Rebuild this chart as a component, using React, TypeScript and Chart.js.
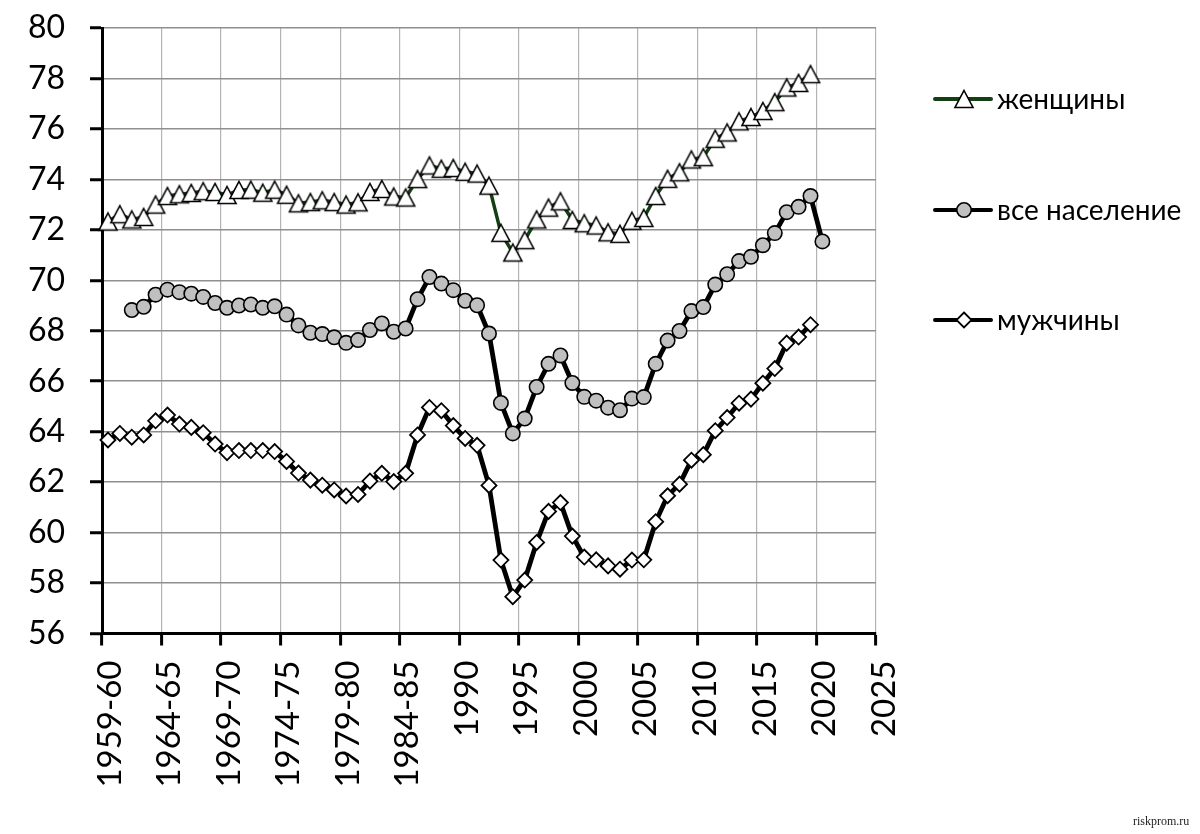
import React, { useEffect, useRef } from 'react';
import { Chart, registerables } from 'chart.js';

Chart.register(...registerables);

// Category start years (each point sits in the middle of its year slot)
const years = [
  1960, 1961, 1962, 1963, 1964, 1965, 1966, 1967, 1968, 1969,
  1970, 1971, 1972, 1973, 1974, 1975, 1976, 1977, 1978, 1979,
  1980, 1981, 1982, 1983, 1984, 1985, 1986, 1987, 1988, 1989,
  1990, 1991, 1992, 1993, 1994, 1995, 1996, 1997, 1998, 1999,
  2000, 2001, 2002, 2003, 2004, 2005, 2006, 2007, 2008, 2009,
  2010, 2011, 2012, 2013, 2014, 2015, 2016, 2017, 2018, 2019,
  2020,
];

const women = [
  72.33, 72.62, 72.41, 72.51, 73.0, 73.34, 73.41, 73.46, 73.53, 73.5,
  73.38, 73.58, 73.59, 73.47, 73.59, 73.39, 73.05, 73.1, 73.17, 73.1,
  73.0, 73.09, 73.5, 73.62, 73.32, 73.28, 74.01, 74.55, 74.42, 74.45,
  74.3, 74.23, 73.75, 71.88, 71.1, 71.59, 72.41, 72.88, 73.13, 72.39,
  72.26, 72.17, 71.9, 71.84, 72.36, 72.47, 73.34, 74.02, 74.28, 74.79,
  74.88, 75.61, 75.86, 76.3, 76.47, 76.71, 77.06, 77.64, 77.82, 78.17,
  null,
];

const total = [
  null, null, 68.82, 68.95, 69.43, 69.63, 69.53, 69.47, 69.34, 69.1,
  68.91, 69.0, 69.04, 68.91, 68.97, 68.64, 68.21, 67.92, 67.87, 67.74,
  67.52, 67.63, 68.03, 68.29, 67.96, 68.09, 69.25, 70.13, 69.87, 69.61,
  69.19, 69.01, 67.89, 65.14, 63.93, 64.52, 65.77, 66.69, 67.02, 65.93,
  65.38, 65.23, 64.95, 64.85, 65.31, 65.37, 66.69, 67.61, 67.99, 68.78,
  68.94, 69.83, 70.24, 70.76, 70.93, 71.39, 71.87, 72.7, 72.91, 73.34,
  71.54,
];

const men = [
  63.67, 63.93, 63.78, 63.87, 64.43, 64.66, 64.3, 64.17, 63.96, 63.51,
  63.17, 63.25, 63.25, 63.25, 63.21, 62.82, 62.36, 62.08, 61.88, 61.69,
  61.45, 61.51, 62.04, 62.35, 62.02, 62.35, 63.87, 64.96, 64.83, 64.24,
  63.73, 63.46, 61.87, 58.91, 57.46, 58.12, 59.61, 60.84, 61.19, 59.86,
  59.03, 58.92, 58.68, 58.55, 58.91, 58.92, 60.43, 61.46, 61.92, 62.87,
  63.09, 64.04, 64.56, 65.13, 65.29, 65.92, 66.5, 67.51, 67.75, 68.24,
  null,
];

const xTickValues = [1960, 1965, 1970, 1975, 1980, 1985, 1990, 1995, 2000, 2005, 2010, 2015, 2020, 2025];
const xTickLabels = ['1959-60', '1964-65', '1969-70', '1974-75', '1979-80', '1984-85', '1990', '1995', '2000', '2005', '2010', '2015', '2020', '2025'];

const seriesLabels = ['женщины', 'все население', 'мужчины'];
const watermark = 'riskprom.ru';

const FONT = 'Lato, "Open Sans", sans-serif';

function makeTriangle(): HTMLCanvasElement {
  const c = document.createElement('canvas');
  c.width = 24;
  c.height = 24;
  const g = c.getContext('2d')!;
  g.beginPath();
  g.moveTo(12, 3.5);
  g.lineTo(21, 20.5);
  g.lineTo(3, 20.5);
  g.closePath();
  g.fillStyle = '#ffffff';
  g.fill();
  g.lineWidth = 1.6;
  g.lineJoin = 'miter';
  g.strokeStyle = '#000000';
  g.stroke();
  return c;
}

export default function App() {
  const ref = useRef<HTMLCanvasElement | null>(null);

  useEffect(() => {
    if (!ref.current) return;
    const tri = makeTriangle();
    const toPoints = (vals: (number | null)[]) =>
      years.map((yr, i) => ({ x: yr + 0.5, y: vals[i] }));

    const legendPlugin = {
      id: 'sideLegend',
      afterDraw(chart: any) {
        const ctx = chart.ctx as CanvasRenderingContext2D;
        const rows = [99, 210, 320];
        chart.data.datasets.forEach((ds: any, i: number) => {
          const y = rows[i];
          ctx.save();
          ctx.strokeStyle = ds.borderColor;
          ctx.lineWidth = 4;
          ctx.lineCap = 'round';
          ctx.beginPath();
          ctx.moveTo(935, y);
          ctx.lineTo(991, y);
          ctx.stroke();
          const mx = 964;
          if (ds.pointStyle && typeof ds.pointStyle === 'object') {
            ctx.drawImage(ds.pointStyle, mx - 12, y - 12);
          } else if (ds.pointStyle === 'circle') {
            ctx.beginPath();
            ctx.arc(mx, y, ds.pointRadius, 0, Math.PI * 2);
            ctx.fillStyle = ds.pointBackgroundColor;
            ctx.fill();
            ctx.lineWidth = ds.pointBorderWidth;
            ctx.strokeStyle = '#000';
            ctx.stroke();
          } else {
            const r = ds.pointRadius;
            ctx.beginPath();
            ctx.moveTo(mx, y - r);
            ctx.lineTo(mx + r, y);
            ctx.lineTo(mx, y + r);
            ctx.lineTo(mx - r, y);
            ctx.closePath();
            ctx.fillStyle = ds.pointBackgroundColor;
            ctx.fill();
            ctx.lineWidth = ds.pointBorderWidth;
            ctx.strokeStyle = '#000';
            ctx.stroke();
          }
          ctx.fillStyle = '#000';
          ctx.font = '28px ' + FONT;
          ctx.textBaseline = 'middle';
          ctx.textAlign = 'left';
          ctx.fillText(ds.label, 997, y + 1);
          ctx.restore();
        });
        ctx.save();
        ctx.fillStyle = '#222';
        ctx.font = '12px "Liberation Serif", serif';
        ctx.textBaseline = 'middle';
        ctx.fillText(watermark, 1133, 822);
        ctx.restore();
      },
    };

    const chart = new Chart(ref.current, {
      type: 'line',
      data: {
        datasets: [
          {
            label: seriesLabels[0],
            data: toPoints(women),
            borderColor: '#133f13',
            borderWidth: 3.5,
            pointStyle: tri as any,
            pointRadius: 10,
            pointBackgroundColor: '#ffffff',
            pointBorderColor: '#000000',
            pointBorderWidth: 1.6,
            clip: false as any,
          },
          {
            label: seriesLabels[1],
            data: toPoints(total),
            borderColor: '#000000',
            borderWidth: 4.8,
            pointStyle: 'circle',
            pointRadius: 7.2,
            pointBackgroundColor: '#c0c0c0',
            pointBorderColor: '#000000',
            pointBorderWidth: 1.6,
            clip: false as any,
          },
          {
            label: seriesLabels[2],
            data: toPoints(men),
            borderColor: '#000000',
            borderWidth: 4.8,
            pointStyle: 'rectRot',
            pointRadius: 7.5,
            pointBackgroundColor: '#ffffff',
            pointBorderColor: '#000000',
            pointBorderWidth: 1.8,
            clip: false as any,
          },
        ] as any,
      },
      options: {
        animation: false,
        responsive: false,
        events: [],
        layout: { padding: { top: 28, right: 324, left: 0, bottom: 0 } },
        elements: {
          line: { tension: 0, borderJoinStyle: 'round', borderCapStyle: 'round' },
        },
        plugins: {
          legend: { display: false },
          tooltip: { enabled: false },
        },
        scales: {
          x: {
            type: 'linear',
            min: 1960,
            max: 2025,
            afterFit: (s: any) => {
              s.height = 200.5;
              s.paddingLeft = 0;
              s.paddingRight = 0;
              s.paddingTop = 0;
              s.paddingBottom = 0;
            },
            afterBuildTicks: (s: any) => { s.ticks = xTickValues.map((v) => ({ value: v })); },
            ticks: {
              autoSkip: false,
              minRotation: 90,
              maxRotation: 90,
              labelOffset: 8,
              padding: 15,
              color: '#000',
              font: { family: FONT, size: 33 },
              callback: (v: any) => {
                const i = xTickValues.indexOf(Number(v));
                return i >= 0 ? xTickLabels[i] : '';
              },
            },
            grid: {
              color: '#b4b4b4',
              lineWidth: 1.2,
              tickLength: 12,
              tickWidth: 3,
              tickColor: '#000',
            },
            border: { display: true, color: '#000', width: 3 },
          },
          y: {
            min: 56,
            max: 80,
            afterFit: (s: any) => {
              s.width = 102;
              s.paddingTop = 0;
              s.paddingBottom = 0;
              s.paddingLeft = 0;
              s.paddingRight = 0;
            },
            ticks: {
              stepSize: 2,
              padding: 25,
              color: '#000',
              font: { family: FONT, size: 32 },
            },
            grid: {
              color: '#8f8f8f',
              lineWidth: 1.5,
              tickLength: 12,
              tickWidth: 3,
              tickColor: '#000',
            },
            border: { display: true, color: '#000', width: 3 },
          },
        },
      },
      plugins: [legendPlugin],
    });
    return () => chart.destroy();
  }, []);

  return (
    <div style={{ position: 'fixed', left: 0, top: 0, width: 1200, height: 834, background: '#fff' }}>
      <canvas ref={ref} width={1200} height={834} style={{ display: 'block' }} />
    </div>
  );
}
